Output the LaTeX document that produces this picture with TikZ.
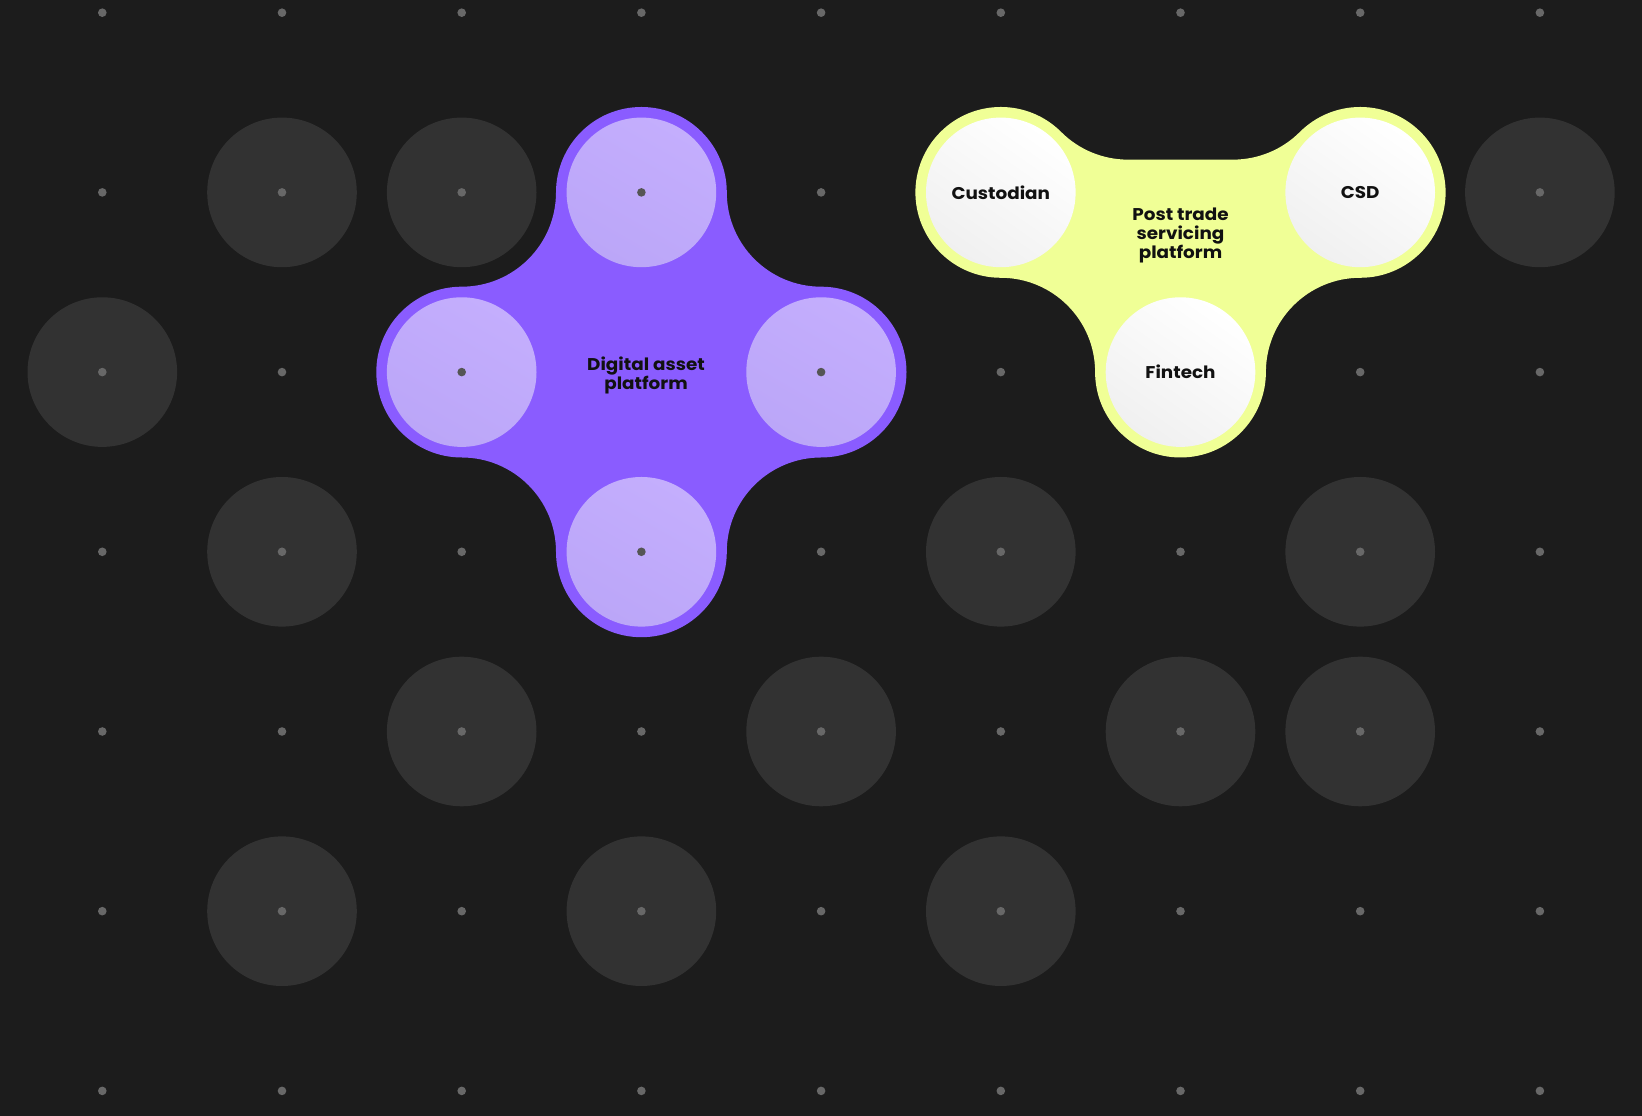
\documentclass[tikz,border=0pt]{standalone}
\usepackage{fontspec}
\setmainfont{Poppins}
\newfontfamily\labfont[FakeStretch=1.08]{Poppins}
\usetikzlibrary{calc}
\definecolor{bgc}{HTML}{1C1C1C}
\definecolor{darkc}{HTML}{323232}
\definecolor{dotc}{HTML}{686868}
\definecolor{purpc}{HTML}{8A5CFF}
\definecolor{lpurpc}{HTML}{C4AEFD}
\definecolor{lpurpd}{HTML}{BBA6F8}
\definecolor{yelc}{HTML}{F0FF96}
\definecolor{whd}{HTML}{F0F0F0}
\definecolor{innerdot}{HTML}{555555}
\definecolor{txtc}{HTML}{111111}
\tikzset{
  darkdisc/.style={circle,fill=darkc,minimum size=149.6pt,inner sep=0pt},
  lpdisc/.style={circle,minimum size=149.6pt,inner sep=0pt,shading=axis,top color=lpurpc,bottom color=lpurpd,shading angle=-30},
  whdisc/.style={circle,minimum size=149.6pt,inner sep=0pt,shading=axis,top color=white,bottom color=whd,shading angle=-35,
    font=\labfont\bfseries\fontsize{17}{19}\selectfont,text=txtc},
  gdot/.style={circle,fill=dotc,minimum size=8.6pt,inner sep=0pt},
  idot/.style={circle,fill=innerdot,minimum size=8.6pt,inner sep=0pt},
  lbl/.style={font=\labfont\bfseries\fontsize{17}{19}\selectfont,text=txtc,align=center,inner sep=0pt}
}
\begin{document}
\begin{tikzpicture}[x=1pt,y=1pt]
\useasboundingbox (0,0) rectangle (1642,1116);
\fill[bgc] (0,0) rectangle (1642,1116);
% grid coordinates
\foreach \k in {0,...,8}{
  \foreach \j in {0,...,6}{
    \coordinate (g-\k-\j) at ({102.3+179.7*\k},{1103.3-179.7*\j});
  }
}
% dark discs
\node[darkdisc] (d11) at (g-1-1) {};
\node[darkdisc] (d21) at (g-2-1) {};
\node[darkdisc] (d81) at (g-8-1) {};
\node[darkdisc] (d02) at (g-0-2) {};
\node[darkdisc] (d13) at (g-1-3) {};
\node[darkdisc] (d53) at (g-5-3) {};
\node[darkdisc] (d73) at (g-7-3) {};
\node[darkdisc] (d24) at (g-2-4) {};
\node[darkdisc] (d44) at (g-4-4) {};
\node[darkdisc] (d64) at (g-6-4) {};
\node[darkdisc] (d74) at (g-7-4) {};
\node[darkdisc] (d15) at (g-1-5) {};
\node[darkdisc] (d35) at (g-3-5) {};
\node[darkdisc] (d55) at (g-5-5) {};
% grid dots
\foreach \k in {0,...,8}{
  \foreach \j in {0,...,6}{
    \node[gdot] (dot-\k-\j) at (g-\k-\j) {};
  }
}
% purple cross body
\fill[purpc] (556.0,923.6) arc[start angle=180,end angle=0,radius=85.4]
  arc[start angle=180,end angle=270,radius=94.3]
  arc[start angle=90,end angle=-90,radius=85.4]
  arc[start angle=90,end angle=180,radius=94.3]
  arc[start angle=0,end angle=-180,radius=85.4]
  arc[start angle=0,end angle=90,radius=94.3]
  arc[start angle=-90,end angle=-270,radius=85.4]
  arc[start angle=-90,end angle=0,radius=94.3] -- cycle;
\node[lpdisc] (pt) at (g-3-1) {};
\node[lpdisc] (pl) at (g-2-2) {};
\node[lpdisc] (pr) at (g-4-2) {};
\node[lpdisc] (pb) at (g-3-3) {};
\foreach \n in {pt,pl,pr,pb}{ \node[idot] at (\n.center) {}; }
\node[lbl] (dap) at (646,741) {Digital asset\\platform};
% yellow body
\fill[yelc] (1061.19,983.99) arc[start angle=45,end angle=270,radius=85.4]
  arc[start angle=90,end angle=0,radius=94.3]
  arc[start angle=180,end angle=360,radius=85.4]
  arc[start angle=180,end angle=90,radius=94.3]
  arc[start angle=-90,end angle=135,radius=85.4]
  arc[start angle=315,end angle=270,radius=94.3]
  -- (1127.87,956.37)
  arc[start angle=270,end angle=225,radius=94.3] -- cycle;
\node[whdisc] (cust) at (g-5-1) {Custodian};
\node[whdisc] (csd) at (g-7-1) {CSD};
\node[whdisc] (fin) at (g-6-2) {Fintech};
\node[lbl] (pts) at (1180.5,881) {Post trade\\servicing\\platform};
\end{tikzpicture}
\end{document}
